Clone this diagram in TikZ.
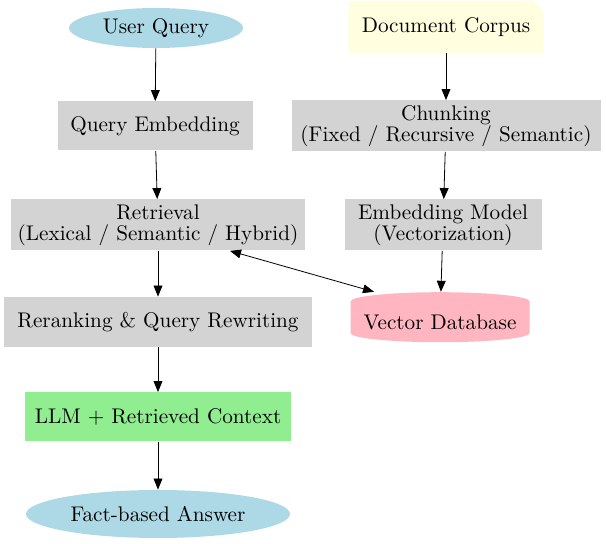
\documentclass[tikz,border=0pt]{standalone}
\usepackage{xcolor}
\usepackage{tikz}
\usetikzlibrary{shapes.geometric,arrows.meta,positioning}

\definecolor{qblue}{RGB}{173,216,230}
\definecolor{qgray}{RGB}{211,211,211}
\definecolor{qyellow}{RGB}{255,255,224}
\definecolor{qpink}{RGB}{255,182,193}
\definecolor{qgreen}{RGB}{144,238,144}

\newcommand{\boxfont}{\fontsize{10.6}{10.4}\selectfont}

\begin{document}
\begin{tikzpicture}[
    x=0.5pt, y=-0.5pt,
    endpoint/.style={ellipse, fill=qblue, inner sep=0pt, font=\boxfont},
    stage/.style={rectangle, fill=qgray, inner sep=0pt, align=center, font=\boxfont},
    corpus/.style={rectangle, inner sep=0pt, font=\boxfont},
    store/.style={cylinder, shape border rotate=90, aspect=0.12, fill=qpink, inner sep=0pt, font=\boxfont},
    llm/.style={rectangle, fill=qgreen, inner sep=0pt, font=\boxfont},
    flow/.style={-{Triangle[length=5.5pt,width=4.4pt]}, thin, black},
    both/.style={{Triangle[length=5.5pt,width=4.4pt]}-{Triangle[length=5.5pt,width=4.4pt]}, thin, black}
]

% Fixed frame
\useasboundingbox (0,0) rectangle (606,544);

% Query side
\node[endpoint, minimum width=87pt, minimum height=20pt] (query) at (156,28) {User Query};
\node[stage, minimum width=97.5pt, minimum height=24.5pt] (qemb) at (155,126) {Query Embedding};
\node[stage, minimum width=147pt, minimum height=25.5pt] (retr) at (158,225) {Retrieval\\(Lexical / Semantic / Hybrid)};
\node[stage, minimum width=154pt, minimum height=25pt] (rerank) at (158,322) {Reranking \& Query Rewriting};
\node[llm, minimum width=133pt, minimum height=24.5pt] (llm) at (158,417) {LLM + Retrieved Context};
\node[endpoint, minimum width=132pt, minimum height=24pt] (answer) at (158,514) {Fact-based Answer};

% Corpus side
\node[corpus, minimum width=97pt, minimum height=25.5pt] (corpus) at (446,27) {};
\fill[qyellow] (corpus.north west) -- ([xshift=-5pt]corpus.north east)
    -- ([yshift=-5pt]corpus.north east) -- (corpus.south east) -- (corpus.south west) -- cycle;
\node[font=\boxfont] at (corpus.center) {Document Corpus};
\node[stage, minimum width=154.5pt, minimum height=25.5pt] (chunk) at (446,126) {Chunking\\(Fixed / Recursive / Semantic)};
\node[stage, minimum width=98.5pt, minimum height=25.5pt] (embm) at (443,225) {Embedding Model\\(Vectorization)};
\node[store, minimum width=89.5pt, minimum height=25pt] (vdb) at (440,322) {Vector Database};

% Edges
\draw[flow] (query) -- (qemb);
\draw[flow] (qemb) -- (retr);
\draw[flow] (retr) -- (rerank);
\draw[flow] (rerank) -- (llm);
\draw[flow] (llm) -- (answer);
\draw[flow] (corpus) -- (chunk);
\draw[flow] (chunk) -- (embm);
\draw[flow] (embm) -- (vdb);
\draw[both] ([xshift=36pt]retr.south) -- ([xshift=-33pt]vdb.north);

\end{tikzpicture}
\end{document}
